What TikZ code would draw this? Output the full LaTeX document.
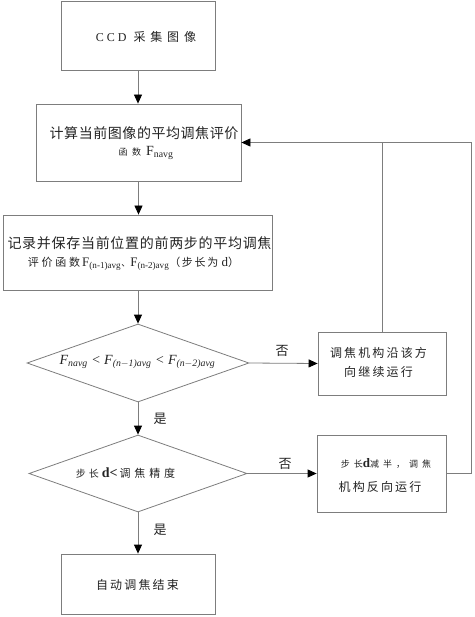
\documentclass[tikz,border=0pt]{standalone}
\usepackage{fontspec}
\setmainfont{Liberation Serif}
\newfontfamily\cjk{Noto Sans CJK SC}
\usetikzlibrary{shapes.geometric,arrows.meta}
\definecolor{linegray}{RGB}{125,125,125}
\definecolor{txt}{RGB}{35,35,35}
\begin{document}
\begin{tikzpicture}[x=1pt,y=-1pt,
  box/.style={draw=linegray,line width=0.8pt,rectangle,inner sep=0pt},
  dia/.style={draw=linegray,line width=0.8pt,diamond,inner sep=0pt,aspect=2.85},
  flow/.style={draw=linegray,line width=0.8pt},
  arr/.style={flow,-{Triangle[black,length=9pt,width=8pt]}},
  txtnode/.style={inner sep=0pt,text=txt,align=center},
  lbl/.style={inner sep=0pt,text=txt,font=\cjk\fontsize{13}{13}\selectfont}]
\useasboundingbox (0,0) rectangle (474,617);
% boxes
\node[box,minimum width=154pt,minimum height=69pt] (ccd) at (138,35.5) {};
\node[box,minimum width=205pt,minimum height=77pt] (b2) at (138.5,142.5) {};
\node[box,minimum width=269pt,minimum height=75pt] (b3) at (137.5,252.5) {};
\node[dia,minimum width=222pt,minimum height=78pt] (d1) at (138,363) {};
\node[box,minimum width=128pt,minimum height=63pt] (b4) at (382,363.5) {};
\node[dia,minimum width=218pt,minimum height=77pt] (d2) at (138,473.5) {};
\node[box,minimum width=129pt,minimum height=77pt] (b5) at (381.5,473.5) {};
\node[box,minimum width=154pt,minimum height=60pt] (fin) at (138,584) {};
% texts
\node[txtnode] (tccd) at (146,37) {{\fontsize{12}{14}\selectfont\addfontfeature{LetterSpace=25}CCD}\hspace{7pt}{\cjk\fontsize{12}{14}\selectfont\addfontfeature{LetterSpace=40}采集图像}};
\node[txtnode] (tb2a) at (144,133) {\cjk\fontsize{14}{16}\selectfont\addfontfeature{LetterSpace=4}计算当前图像的平均调焦评价};
\node[txtnode] (tb2b) at (146,153) {{\cjk\fontsize{9}{10}\selectfont 函\enspace 数}\ \ {\fontsize{14}{16}\selectfont F\textsubscript{navg}}};
\node[txtnode] (tb3a) at (139.5,243) {\cjk\fontsize{14}{16}\selectfont\addfontfeature{LetterSpace=5}记录并保存当前位置的前两步的平均调焦};
\node[txtnode] (tb3b) at (133.5,264) {{\cjk\fontsize{11}{13}\selectfont\addfontfeature{LetterSpace=25}评价函数}\hspace{2pt}{\fontsize{13}{16}\selectfont F\textsubscript{(n-1)avg}{\cjk\fontsize{9}{12}\selectfont 、}F\textsubscript{(n-2)avg}{\cjk\fontsize{11}{14}\selectfont\addfontfeature{LetterSpace=15}（步长为} d{\cjk\fontsize{11}{14}\selectfont ）}}};
\node[txtnode,font=\fontsize{14}{16}\selectfont\itshape] (td1) at (137.5,362) {F\textsubscript{navg} < F\textsubscript{(n$-$1)avg} < F\textsubscript{(n$-$2)avg}};
\node[txtnode,font=\cjk\fontsize{12}{19}\selectfont\addfontfeature{LetterSpace=18}] (tb4) at (378.5,362.5) {调焦机构沿该方\\向继续运行};
\node[txtnode] (td2) at (125.5,473) {{\cjk\fontsize{10}{12}\selectfont\addfontfeature{LetterSpace=30}步长}\hspace{3pt}{\fontsize{14}{16}\selectfont\bfseries d<}\hspace{2pt}{\cjk\fontsize{11}{13}\selectfont\addfontfeature{LetterSpace=35}调焦精度}};
\node[txtnode] (tb5a) at (386,463) {{\cjk\fontsize{9}{11}\selectfont\addfontfeature{LetterSpace=45}步长}{\fontsize{13}{15}\selectfont\bfseries d}{\cjk\fontsize{9}{11}\selectfont\addfontfeature{LetterSpace=45}减半，调焦}};
\node[txtnode,font=\cjk\fontsize{12}{14}\selectfont\addfontfeature{LetterSpace=18}] (tb5b) at (380,487) {机构反向运行};
\node[txtnode,font=\cjk\fontsize{12}{14}\selectfont\addfontfeature{LetterSpace=18}] (tfin) at (137.5,585) {自动调焦结束};
% labels
\node[lbl] (no1) at (282,351) {否};
\node[lbl] (no2) at (285,464) {否};
\node[lbl] (yes1) at (160,419) {是};
\node[lbl] (yes2) at (160,530) {是};
% connectors
\coordinate (fb) at (471,142.5);
\draw[arr] (ccd.south) -- (ccd.south |- b2.north);
\draw[arr] (b2.south) -- (b2.south |- b3.north);
\draw[arr] (d1.north |- b3.south) -- (d1.north);
\draw[arr] (d1.south) -- (d2.north);
\draw[arr] (d2.south) -- (fin.north);
\draw[arr] (d1.east) -- (b4.west);
\draw[arr] (d2.east) -- (b5.west);
\draw[arr] (b4.north) |- (b2.east);
\draw[flow] (b5.east) -| (fb) -- (b4.north |- fb);
\end{tikzpicture}
\end{document}
